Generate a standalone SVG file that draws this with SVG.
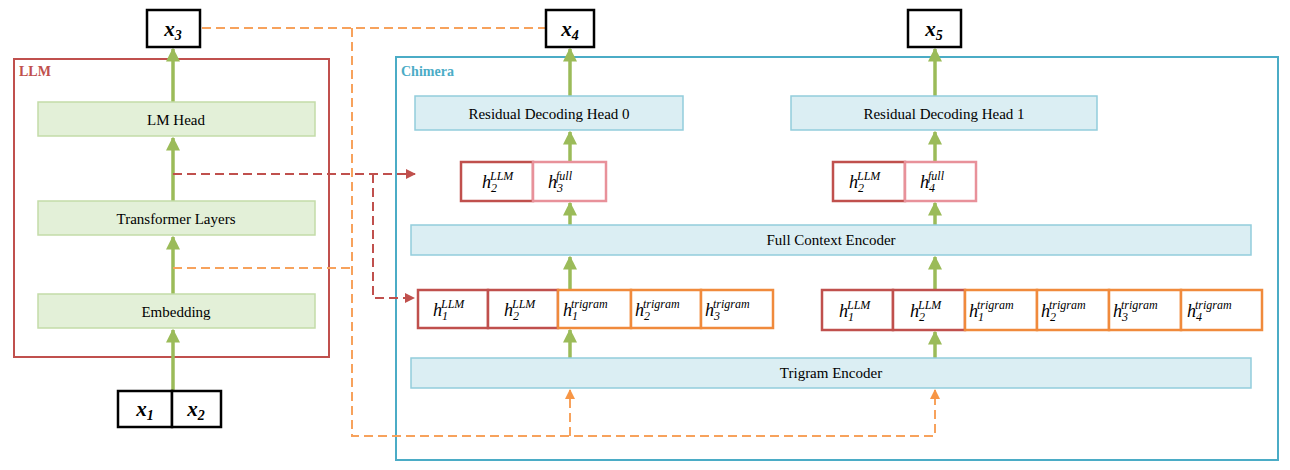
<svg xmlns="http://www.w3.org/2000/svg" width="1290" height="470" viewBox="0 0 1290 470">
<defs>
<marker id="ga" viewBox="0 0 10 10" refX="9" refY="5" markerWidth="4" markerHeight="4" orient="auto"><path d="M0,0L10,5L0,10z" fill="#9bbb59"/></marker>
<marker id="oa" viewBox="0 0 10 10" refX="9" refY="5" markerWidth="5" markerHeight="5" orient="auto"><path d="M0,0L10,5L0,10z" fill="#f79646"/></marker>
<marker id="ra" viewBox="0 0 10 10" refX="9" refY="5" markerWidth="5" markerHeight="5" orient="auto"><path d="M0,0L10,5L0,10z" fill="#c0504d"/></marker>
</defs>
<style>
text{font-family:"Liberation Serif","DejaVu Serif",serif;fill:#000}
.g{fill:#e3f0d8;stroke:#c3dca8;stroke-width:1.5}
.b{fill:#dbeef3;stroke:#92cddc;stroke-width:1.5}
.x{fill:#fff;stroke:#000;stroke-width:2.5}
.r{fill:#fff;stroke:#c0504d;stroke-width:2.5}
.p{fill:#fff;stroke:#e8919a;stroke-width:2.5}
.o{fill:#fff;stroke:#f08a3c;stroke-width:2.5}
.lab{font-size:15px}
.m{font-size:18px;font-style:italic}
.m tspan{font-size:12px}
.xl{font-size:21px;font-style:italic;font-weight:bold}
.gl{stroke:#9bbb59;stroke-width:3.5;fill:none}
.od{stroke:#f7a25c;stroke-width:2;stroke-dasharray:9,5;fill:none}
.rd{stroke:#c0504d;stroke-width:2;stroke-dasharray:9,5;fill:none}
</style>
<rect x="14" y="59" width="315" height="298" fill="none" stroke="#c0504d" stroke-width="2"/>
<text x="19" y="76" font-size="14" font-weight="bold" style="fill:#c0504d">LLM</text>
<rect x="396" y="57" width="882" height="403" fill="none" stroke="#4bacc6" stroke-width="2"/>
<text x="401" y="76" font-size="14" font-weight="bold" style="fill:#4bacc6">Chimera</text>
<g id="connectors">
<path class="gl" d="M173,391V330" marker-end="url(#ga)"/>
<path class="gl" d="M173,294V237" marker-end="url(#ga)"/>
<path class="gl" d="M173,201V138" marker-end="url(#ga)"/>
<path class="gl" d="M173,102V49" marker-end="url(#ga)"/>
<path class="gl" d="M570,96V49" marker-end="url(#ga)"/>
<path class="gl" d="M570,162V132" marker-end="url(#ga)"/>
<path class="gl" d="M570,225V203" marker-end="url(#ga)"/>
<path class="gl" d="M570,290V257" marker-end="url(#ga)"/>
<path class="gl" d="M570,358V330" marker-end="url(#ga)"/>
<path class="gl" d="M935,96V49" marker-end="url(#ga)"/>
<path class="gl" d="M935,162V132" marker-end="url(#ga)"/>
<path class="gl" d="M935,225V203" marker-end="url(#ga)"/>
<path class="gl" d="M935,290V257" marker-end="url(#ga)"/>
<path class="gl" d="M935,358V332" marker-end="url(#ga)"/>
<path class="od" d="M202,28H545"/>
<path class="od" d="M352,28V436H935V390" marker-end="url(#oa)"/>
<path class="od" d="M570,436V390" marker-end="url(#oa)"/>
<path class="od" d="M173,268H352"/>
<path class="rd" d="M173,174H415" marker-end="url(#ra)"/>
<path class="rd" d="M373,174V298H414" marker-end="url(#ra)"/>
</g>
<g id="x3"><rect class="x" x="147" y="10" width="53" height="37"/><text class="xl" x="173" y="36" text-anchor="middle">x<tspan font-size="14" dy="4">3</tspan></text></g>
<g id="x4"><rect class="x" x="546" y="10" width="48" height="37"/><text class="xl" x="570" y="36" text-anchor="middle">x<tspan font-size="14" dy="4">4</tspan></text></g>
<g id="x5"><rect class="x" x="908" y="10" width="53" height="37"/><text class="xl" x="934" y="36" text-anchor="middle">x<tspan font-size="14" dy="4">5</tspan></text></g>
<g id="x1"><rect class="x" x="118" y="391" width="54" height="36"/><text class="xl" x="145" y="416" text-anchor="middle">x<tspan font-size="14" dy="4">1</tspan></text></g>
<g id="x2"><rect class="x" x="172" y="391" width="49" height="36"/><text class="xl" x="196" y="416" text-anchor="middle">x<tspan font-size="14" dy="4">2</tspan></text></g>
<g id="lmhead"><rect class="g" x="38" y="102" width="277" height="34"/><text class="lab" x="176" y="125" text-anchor="middle">LM Head</text></g>
<g id="transformer"><rect class="g" x="38" y="201" width="277" height="34"/><text class="lab" x="176" y="224" text-anchor="middle">Transformer Layers</text></g>
<g id="embedding"><rect class="g" x="38" y="294" width="277" height="34"/><text class="lab" x="176" y="317" text-anchor="middle">Embedding</text></g>
<g id="rdh0"><rect class="b" x="415" y="96" width="268" height="34"/><text class="lab" x="549" y="119" text-anchor="middle">Residual Decoding Head 0</text></g>
<g id="rdh1"><rect class="b" x="791" y="96" width="306" height="34"/><text class="lab" x="944" y="119" text-anchor="middle">Residual Decoding Head 1</text></g>
<g id="fce"><rect class="b" x="411" y="225" width="840" height="30"/><text class="lab" x="831" y="245" text-anchor="middle">Full Context Encoder</text></g>
<g id="te"><rect class="b" x="411" y="358" width="840" height="30"/><text class="lab" x="831" y="378" text-anchor="middle">Trigram Encoder</text></g>
<g id="top-left">
<rect class="r" x="461" y="162" width="72" height="39"/><text class="m" x="482" y="188">h<tspan dy="4">2</tspan><tspan dx="-7" dy="-12">LLM</tspan></text>
<rect class="p" x="533" y="162" width="73" height="39"/><text class="m" x="548" y="188">h<tspan dy="4">3</tspan><tspan dx="-7" dy="-12">full</tspan></text>
</g>
<g id="top-right">
<rect class="r" x="833" y="162" width="72" height="39"/><text class="m" x="849" y="188">h<tspan dy="4">2</tspan><tspan dx="-7" dy="-12">LLM</tspan></text>
<rect class="p" x="905" y="162" width="71" height="39"/><text class="m" x="920" y="188">h<tspan dy="4">4</tspan><tspan dx="-7" dy="-12">full</tspan></text>
</g>
<g id="row-left">
<rect class="r" x="418" y="290" width="70" height="38"/><text class="m" x="433" y="316">h<tspan dy="4">1</tspan><tspan dx="-7" dy="-12">LLM</tspan></text>
<rect class="r" x="488" y="290" width="70" height="38"/><text class="m" x="504" y="316">h<tspan dy="4">2</tspan><tspan dx="-7" dy="-12">LLM</tspan></text>
<rect class="o" x="558" y="290" width="73" height="38"/><text class="m" x="563" y="316">h<tspan dy="4">1</tspan><tspan dx="-7" dy="-12">trigram</tspan></text>
<rect class="o" x="631" y="290" width="70" height="38"/><text class="m" x="635" y="316">h<tspan dy="4">2</tspan><tspan dx="-7" dy="-12">trigram</tspan></text>
<rect class="o" x="701" y="290" width="72" height="38"/><text class="m" x="705" y="316">h<tspan dy="4">3</tspan><tspan dx="-7" dy="-12">trigram</tspan></text>
</g>
<g id="row-right">
<rect class="r" x="822" y="290" width="71" height="40"/><text class="m" x="839" y="317">h<tspan dy="4">1</tspan><tspan dx="-7" dy="-12">LLM</tspan></text>
<rect class="r" x="893" y="290" width="72" height="40"/><text class="m" x="910" y="317">h<tspan dy="4">2</tspan><tspan dx="-7" dy="-12">LLM</tspan></text>
<rect class="o" x="965" y="290" width="72" height="40"/><text class="m" x="969" y="317">h<tspan dy="4">1</tspan><tspan dx="-7" dy="-12">trigram</tspan></text>
<rect class="o" x="1037" y="290" width="72" height="40"/><text class="m" x="1041" y="317">h<tspan dy="4">2</tspan><tspan dx="-7" dy="-12">trigram</tspan></text>
<rect class="o" x="1109" y="290" width="72" height="40"/><text class="m" x="1113" y="317">h<tspan dy="4">3</tspan><tspan dx="-7" dy="-12">trigram</tspan></text>
<rect class="o" x="1181" y="290" width="81" height="40"/><text class="m" x="1187" y="317">h<tspan dy="4">4</tspan><tspan dx="-7" dy="-12">trigram</tspan></text>
</g>
</svg>
